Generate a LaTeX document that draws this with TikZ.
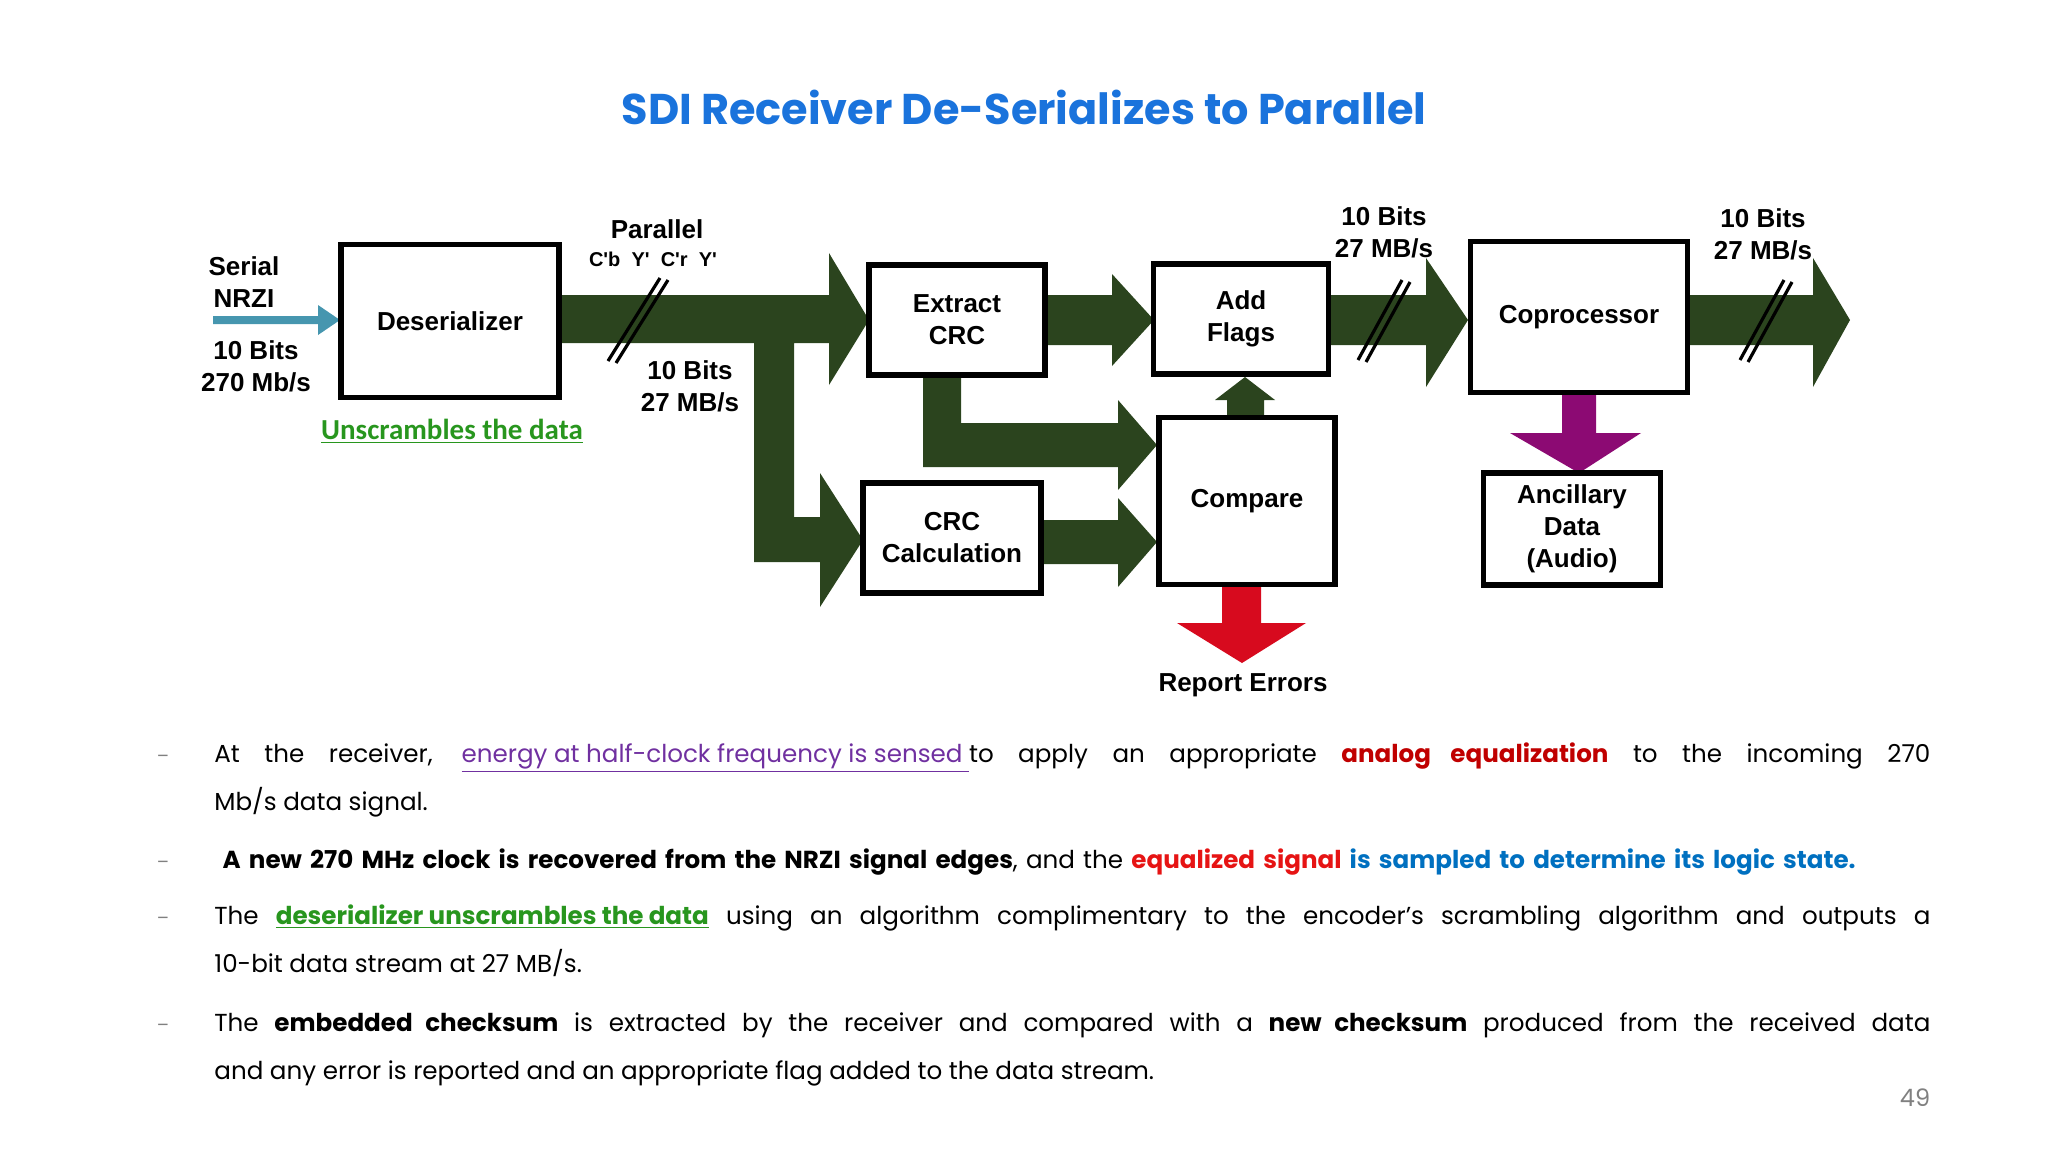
\documentclass[tikz,border=0pt]{standalone}
\usepackage{fontspec}
\setmainfont{Poppins}
\newfontfamily\diag{Liberation Sans}
\newfontfamily\calib{Carlito}
\definecolor{bus}{RGB}{43,68,30}
\definecolor{titleblue}{RGB}{26,115,220}
\definecolor{teal}{RGB}{70,150,175}
\definecolor{redarr}{RGB}{215,10,30}
\definecolor{purp}{RGB}{140,10,115}
\definecolor{ulpurple}{RGB}{112,48,160}
\definecolor{dred}{RGB}{192,0,0}
\definecolor{bred}{RGB}{230,20,20}
\definecolor{bblue}{RGB}{0,112,192}
\definecolor{ugreen}{RGB}{40,150,30}
\begin{document}
\begin{tikzpicture}[x=0.5pt,y=-0.5pt,
  box/.style={draw,line width=2.6pt,fill=white,align=center,inner sep=0pt,font=\diag\bfseries\fontsize{13}{16}\selectfont},
  lbl/.style={align=center,inner sep=0pt,font=\diag\bfseries\fontsize{13}{16}\selectfont},
  bullet/.style={anchor=base west,inner sep=0pt,align=justify,text width=858pt,font=\fontsize{12.3}{24}\selectfont},
  dashmark/.style={anchor=base,inner sep=0pt,text=gray,font=\fontsize{9}{10}\selectfont},
  slash/.style={line width=1.6pt,black}]
\useasboundingbox (0,0) rectangle (2048,1152);
\node[font=\bfseries\fontsize{21.5}{26}\selectfont,text=titleblue] (title) at (1024,107) {SDI Receiver De-Serializes to Parallel};

% block arrows
\fill[bus] (559,295) -- (829,295) -- (829,253) -- (869,320) -- (829,385) -- (829,343) -- (794,343) -- (794,517) -- (820,517) -- (820,473) -- (863,540) -- (820,607) -- (820,562) -- (754,562) -- (754,343) -- (559,343) -- cycle;
\fill[bus] (923,370) -- (961,370) -- (961,423) -- (1118,423) -- (1118,400) -- (1157,445) -- (1118,490) -- (1118,467) -- (923,467) -- cycle;
\fill[bus] (1045,295) -- (1112,295) -- (1112,274) -- (1154,320) -- (1112,366) -- (1112,345) -- (1045,345) -- cycle;
\fill[bus] (1041,520) -- (1118,520) -- (1118,498) -- (1157,542) -- (1118,587) -- (1118,564) -- (1041,564) -- cycle;
\fill[bus] (1329,295) -- (1426,295) -- (1426,258) -- (1468,320) -- (1426,387) -- (1426,345) -- (1329,345) -- cycle;
\fill[bus] (1688,295) -- (1813,295) -- (1813,258) -- (1850,320) -- (1813,387) -- (1813,345) -- (1688,345) -- cycle;
\fill[bus] (1227,425) -- (1227,400) -- (1215,400) -- (1245,377) -- (1275,400) -- (1264,400) -- (1264,425) -- cycle;
\fill[redarr] (1222,580) -- (1261,580) -- (1261,623) -- (1306,623) -- (1242,663) -- (1177,623) -- (1222,623) -- cycle;
\fill[purp] (1562,390) -- (1596,390) -- (1596,433) -- (1641,433) -- (1579,473) -- (1510,433) -- (1562,433) -- cycle;
\fill[teal] (213,316) -- (318,316) -- (318,305) -- (340,320) -- (318,335) -- (318,324) -- (213,324) -- cycle;

% slashes
\draw[slash] (608,361) -- (660,278);
\draw[slash] (616,363) -- (668,280);
\draw[slash] (1358,360) -- (1402,280);
\draw[slash] (1366,362) -- (1410,282);
\draw[slash] (1740,360) -- (1784,280);
\draw[slash] (1748,362) -- (1792,282);

% boxes
\node[box,minimum width=109pt,minimum height=76.5pt] (des) at (450,321) {Deserializer};
\node[box,minimum width=88pt,minimum height=55pt] (ext) at (957,320) {Extract\\CRC};
\node[box,minimum width=89pt,minimum height=55pt] (crc) at (952,538) {CRC\\Calculation};
\node[box,minimum width=87.5pt,minimum height=55pt] (add) at (1241,319) {Add\\Flags};
\node[box,minimum width=88pt,minimum height=83.5pt] (cmp) at (1247,501) {Compare};
\node[box,minimum width=108.5pt,minimum height=75.5pt] (cop) at (1579,317) {Coprocessor};
\node[box,minimum width=88.5pt,minimum height=56pt] (anc) at (1572,529) {Ancillary\\Data\\(Audio)};

% labels
\node[lbl] (ser) at (244,282) {Serial\\NRZI};
\node[lbl] (inr) at (256,366) {10 Bits\\270 Mb/s};
\node[lbl] (par) at (657,229) {Parallel};
\node[lbl,font=\diag\bfseries\fontsize{10}{12}\selectfont] (cby) at (653,259) {C'b\ \ Y'\ \ C'r\ \ Y'};
\node[lbl] (r1) at (690,386) {10 Bits\\27 MB/s};
\node[lbl] (r2) at (1384,232) {10 Bits\\27 MB/s};
\node[lbl] (r3) at (1763,234) {10 Bits\\27 MB/s};
\node[lbl] (rep) at (1243,685) {Report Errors};
\node[inner sep=0pt,text=ugreen,font=\calib\bfseries\fontsize{14.5}{17}\selectfont] (uns) at (452,431) {\underline{Unscrambles the data}};

% bullets
\node[dashmark] (d1) at (163,762) {–};
\node[dashmark] (d2) at (163,868) {–};
\node[dashmark] (d3) at (163,924) {–};
\node[dashmark] (d4) at (163,1031) {–};
\node[bullet] (b1) at (214,762) {At the receiver, \textcolor{ulpurple}{\underline{energy at half-clock frequency is sensed\ }}to apply an appropriate \textcolor{dred}{\bfseries analog equalization} to the incoming 270\linebreak Mb/s data signal.};
\node[bullet,align=left] (b2) at (214,868) {\ \textbf{A new 270 MHz clock is recovered from the NRZI signal edges}, and the \textcolor{bred}{\bfseries equalized signal} \textcolor{bblue}{\bfseries is sampled to determine its logic state.}};
\node[bullet] (b3) at (214,924) {The \textcolor{ugreen}{\bfseries\underline{deserializer unscrambles the data}} using an algorithm complimentary to the encoder’s scrambling algorithm and outputs a\linebreak 10-bit data stream at 27 MB/s.};
\node[bullet] (b4) at (214,1031) {The \textbf{embedded checksum} is extracted by the receiver and compared with a \textbf{new checksum} produced from the received data\linebreak and any error is reported and an appropriate flag added to the data stream.};
\node[inner sep=0pt,text=gray,font=\fontsize{12}{14}\selectfont] (pg) at (1915,1098) {49};
\end{tikzpicture}
\end{document}
